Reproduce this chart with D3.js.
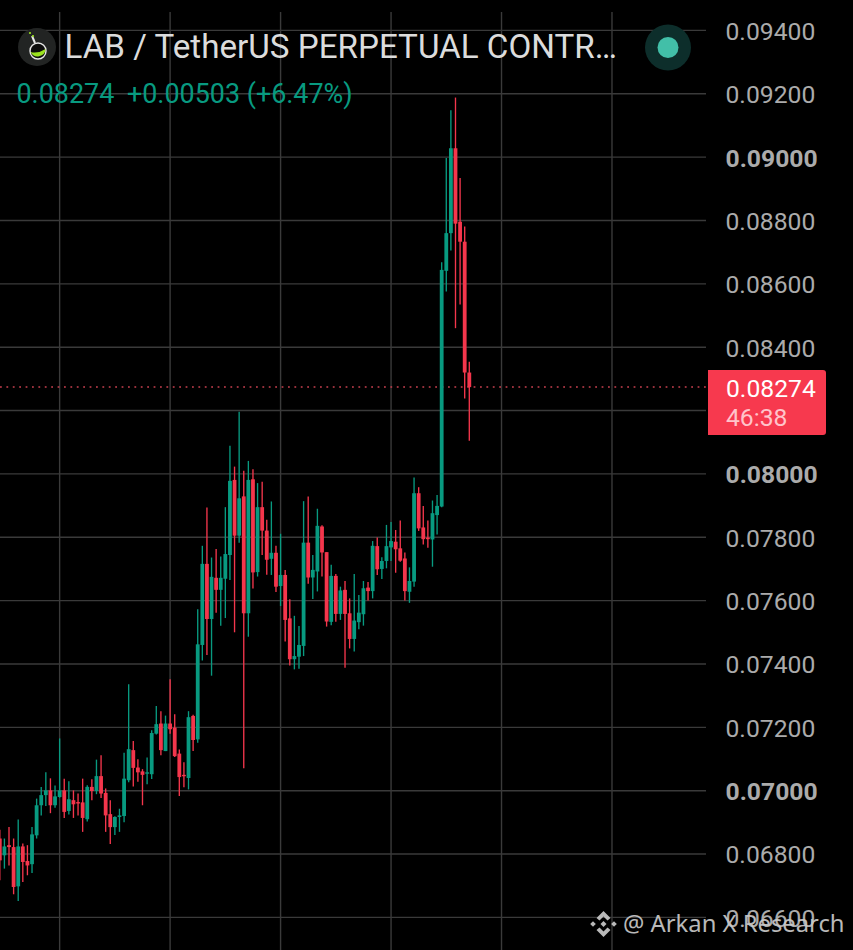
<!DOCTYPE html>
<html><head><meta charset="utf-8">
<script src="https://cdn.jsdelivr.net/npm/d3@7/dist/d3.min.js"></script>
<style>html,body{margin:0;padding:0;background:#000;overflow:hidden}svg{display:block}</style>
</head><body><svg id="c" width="853" height="950"></svg>
<script>
const open=[.06849,.06796,.06828,.06822,.06698,.06824,.06778,.06768,.06859,.06954,.06986,.07001,.06954,.0698,.07001,.06936,.0697,.06964,.06963,.0691,.07012,.06999,.07046,.06993,.06926,.06885,.06917,.0692,.07033,.07128,.07073,.07061,.07054,.07052,.0718,.07212,.07125,.07212,.07199,.07117,.0705,.0704,.07236,.07162,.0746,.07716,.07542,.07672,.07634,.07669,.07744,.07981,.07805,.07929,.0756,.07983,.0769,.07895,.07821,.07732,.07751,.07646,.07681,.07544,.07415,.07423,.07457,.07783,.07673,.07692,.07834,.07753,.07533,.07678,.07558,.07634,.0756,.07479,.07532,.07557,.07641,.0763,.07772,.077,.07725,.07768,.07786,.07765,.07733,.07628,.0766,.07939,.07831,.07799,.07793,.0787,.07897,.08641,.0876,.09028,.08796,.08733,.0832];
const high=[.06877,.06849,.06885,.06849,.06909,.06833,.06828,.06885,.06975,.07012,.07058,.07039,.07016,.07165,.07038,.0703,.07001,.06991,.07038,.07017,.07036,.07098,.07112,.07007,.0697,.06919,.06943,.0712,.07336,.07157,.07099,.07068,.07105,.07191,.07267,.07251,.07237,.07352,.07241,.0713,.0709,.07251,.0724,.07573,.07773,.07894,.07736,.07763,.07739,.07895,.08089,.08023,.08196,.0801,.08041,.08015,.07971,.07975,.07855,.07913,.07773,.07811,.07697,.07604,.07552,.0752,.07914,.07929,.07744,.0789,.07838,.07753,.07713,.07684,.07644,.07662,.07607,.07684,.07618,.07662,.07659,.07788,.07799,.07737,.07839,.07848,.07823,.07853,.07752,.07705,.07989,.07958,.07899,.07853,.07916,.07933,.08668,.08997,.09148,.09188,.08934,.08781,.08354];
const low=[.06717,.06754,.06764,.06673,.06652,.06712,.06733,.0674,.06849,.06922,.06952,.06929,.06946,.06978,.06914,.06925,.06914,.06922,.0687,.06903,.0697,.06989,.06977,.0687,.06832,.0686,.0687,.069,.07027,.07013,.07028,.06954,.0702,.07037,.07177,.07112,.07125,.0718,.07106,.06983,.07011,.07004,.07125,.07151,.07411,.07428,.07363,.07562,.07521,.07545,.07665,.075,.07783,.07071,.07486,.07638,.07676,.07744,.07682,.07681,.07627,.07583,.07471,.07395,.07383,.07385,.07425,.07653,.07605,.07629,.07676,.07518,.07522,.07533,.07539,.07388,.07449,.07439,.0751,.07521,.076,.07607,.07681,.07668,.07702,.07725,.07688,.07723,.076,.07593,.07644,.0782,.07777,.07767,.07707,.07809,.07895,.08576,.08705,.0846,.08535,.08238,.08105];
const close=[.0678,.06824,.06822,.06696,.06824,.06775,.06764,.06862,.06954,.06986,.07001,.06954,.06982,.07001,.06933,.06973,.06957,.06961,.06914,.07012,.06999,.07046,.06991,.06922,.06885,.06917,.06922,.07038,.07131,.07072,.07058,.0705,.07058,.07182,.0721,.07128,.07212,.07194,.07109,.07043,.07046,.07232,.0716,.07462,.07716,.07542,.07675,.07634,.07672,.07747,.07978,.07805,.07923,.0756,.07981,.07689,.07895,.07821,.07729,.07751,.07644,.07681,.07539,.07415,.07425,.0746,.07783,.07673,.07697,.07836,.07752,.07534,.07678,.07558,.07632,.07558,.07479,.07537,.07562,.07639,.0763,.07773,.07699,.07725,.07772,.07788,.07762,.07726,.0763,.07662,.07939,.07828,.07794,.07794,.07876,.07899,.08644,.0876,.09028,.0879,.08733,.0832,.08274];
const gridPrices=[.094,.092,.09,.088,.086,.084,.082,.08,.078,.076,.074,.072,.07,.068,.066];
const labelPrices=[.094,.092,.09,.088,.086,.084,.08,.078,.076,.074,.072,.07,.068,.066];
const boldTicks=[.09,.08,.07];
const timeGrid=[13,37,61,85,109,133];
const lastPrice=.08274;
const titleText="LAB / TetherUS PERPETUAL CONTR\u2026";
const quoteText="0.08274";
const changeText="+0.00503 (+6.47%)";
const countdown="46:38";
const watermark="@ Arkan X Research";

const UP="#089a80",DOWN="#f4364c",GRID="#3a3a3a",AXIS="#ababab";
const FONT="Roboto, sans-serif";
const svg=d3.select("#c");
svg.append("rect").attr("width",853).attr("height",950).attr("fill","#000");
const x=d3.scaleLinear().domain([0,102]).range([-0.2,469.3]);
const y=d3.scaleLinear().domain([.066,.094]).range([917.4,30.4]);

// grid
const grid=svg.append("g");
grid.selectAll("line.h").data(gridPrices).join("line").attr("class","h")
 .attr("x1",0).attr("x2",706).attr("y1",d=>y(d)).attr("y2",d=>y(d))
 .attr("stroke",GRID).attr("stroke-width",1.4);
grid.selectAll("line.v").data(timeGrid).join("line").attr("class","v")
 .attr("x1",d=>x(d)).attr("x2",d=>x(d)).attr("y1",12).attr("y2",950)
 .attr("stroke",GRID).attr("stroke-width",1.4);

// price axis (the 0.08200 label sits behind the last-price tag, so it is not drawn)
const axis=d3.axisRight(y).tickValues(labelPrices).tickSize(0).tickPadding(0).tickFormat(d=>d.toFixed(5));
const ax=svg.append("g").attr("transform","translate(725.5,1)").call(axis);
ax.select(".domain").remove();
ax.selectAll("text").attr("fill",AXIS).attr("font-family",FONT).attr("font-size",24.7)
 .attr("font-weight",d=>boldTicks.includes(d)?700:400);

// last price line
svg.append("line").attr("x1",0).attr("x2",707).attr("y1",y(lastPrice)).attr("y2",y(lastPrice))
 .attr("stroke","#c8404f").attr("stroke-width",1.5).attr("stroke-dasharray","1.8 4.6");

// candles
const idx=d3.range(open.length);
const col=i=>close[i]>=open[i]?UP:DOWN;
const candles=svg.append("g");
candles.selectAll("line").data(idx).join("line")
 .attr("x1",i=>x(i)).attr("x2",i=>x(i)).attr("y1",i=>y(high[i])).attr("y2",i=>y(low[i]))
 .attr("stroke",col).attr("stroke-width",1.35);
candles.selectAll("rect").data(idx).join("rect")
 .attr("x",i=>x(i)-1.9).attr("width",3.8)
 .attr("y",i=>y(Math.max(open[i],close[i])))
 .attr("height",i=>Math.max(1.4,Math.abs(y(open[i])-y(close[i]))))
 .attr("fill",col);

// header
const logo=svg.append("g").attr("transform","translate(37,47)");
logo.append("circle").attr("r",19).attr("fill","#222423");
logo.append("circle").attr("cx",1).attr("cy",4).attr("r",8).attr("fill","#0c0c0c").attr("stroke","#e6e6e6").attr("stroke-width",1.4);
logo.append("path").attr("d","M-6.5 5 A8 8 0 0 0 8.6 2 Q1 7 -6.5 5Z").attr("fill","#9be21f");
logo.append("path").attr("d","M-2 -4 L-5 -11").attr("stroke","#e6e6e6").attr("stroke-width",2);
logo.append("circle").attr("cx",-7).attr("cy",-14).attr("r",1.1).attr("fill","#9be21f");
logo.append("circle").attr("cx",-4).attr("cy",-11).attr("r",1.1).attr("fill","#9be21f");

svg.append("text").attr("x",64.5).attr("y",58).attr("fill","#dcdcdc").attr("font-family",FONT).attr("font-size",33.2).text(titleText);
svg.append("text").attr("x",16.5).attr("y",103).attr("fill",UP).attr("font-family",FONT).attr("font-size",26.9).text(quoteText);
svg.append("text").attr("x",127).attr("y",103).attr("fill",UP).attr("font-family",FONT).attr("font-size",26.9).text(changeText);

svg.append("circle").attr("cx",668).attr("cy",47.5).attr("r",23).attr("fill","#0d2e2b");
svg.append("circle").attr("cx",668).attr("cy",47.5).attr("r",10.5).attr("fill","#42bfa8");

// price tag
svg.append("path").attr("d","M708 370 H823 a3 3 0 0 1 3 3 V432 a3 3 0 0 1 -3 3 H708 Z").attr("fill","#f7394e");
svg.append("text").attr("x",726).attr("y",397).attr("fill","#ffffff").attr("font-family",FONT).attr("font-size",24.7).text(lastPrice.toFixed(5));
svg.append("text").attr("x",726).attr("y",426).attr("fill","#ffc4ca").attr("font-family",FONT).attr("font-size",24.7).text(countdown);

// watermark
const wm=svg.append("g").attr("fill","#c9c9c9").attr("opacity",.92);
const d=wm.append("g").attr("transform","translate(603.5,924)");
d.append("path").attr("d","M0 -13 L7 -6 L4 -3.5 L0 -7.5 L-4 -3.5 L-7 -6 Z");
d.append("path").attr("d","M0 13 L7 6 L4 3.5 L0 7.5 L-4 3.5 L-7 6 Z");
[[-10.5,0,2.8],[10.5,0,2.8],[0,0,3]].forEach(p=>{
  d.append("path").attr("d",`M${p[0]} ${p[1]-p[2]} L${p[0]+p[2]} ${p[1]} L${p[0]} ${p[1]+p[2]} L${p[0]-p[2]} ${p[1]} Z`);
});
wm.append("text").attr("x",623).attr("y",932).attr("font-family","'Noto Sans', sans-serif").attr("font-size",23.8).text(watermark);
</script></body></html>
